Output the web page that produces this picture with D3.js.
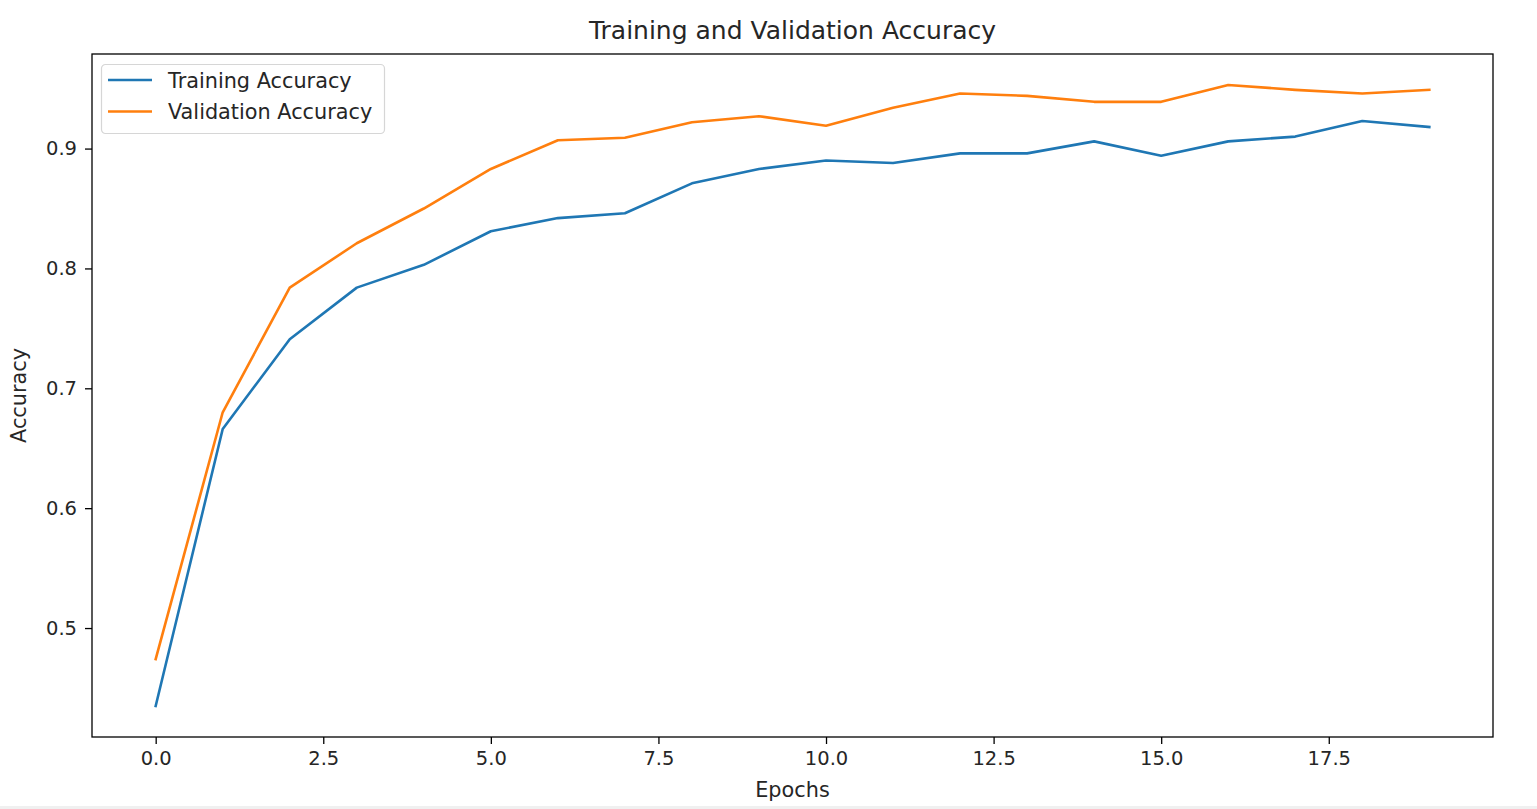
<!DOCTYPE html>
<html>
<head>
<meta charset="utf-8">
<script src="https://cdn.jsdelivr.net/npm/d3@7"></script>
<style>
    html, body { margin: 0; padding: 0; background: #ffffff; }
    svg { display: block; }
</style>
</head>
<body>
<div id="chartContainer"></div>
<script>
var epochs = [0, 1, 2, 3, 4, 5, 6, 7, 8, 9, 10, 11, 12, 13, 14, 15, 16, 17, 18, 19];
var trainingAccuracy = [0.435, 0.666, 0.741, 0.784, 0.803, 0.831, 0.842, 0.846, 0.871, 0.883,
    0.890, 0.888, 0.896, 0.896, 0.906, 0.894, 0.906, 0.910, 0.923, 0.918];
var validationAccuracy = [0.474, 0.680, 0.784, 0.821, 0.850, 0.883, 0.907, 0.909, 0.922, 0.927,
    0.919, 0.934, 0.946, 0.944, 0.939, 0.939, 0.953, 0.949, 0.946, 0.949];
var xTicks = [0, 2.5, 5, 7.5, 10, 12.5, 15, 17.5];
var yTicks = [0.5, 0.6, 0.7, 0.8, 0.9];
var seriesNames = ['Training Accuracy', 'Validation Accuracy'];
var seriesColors = ['#1f77b4', '#ff7f0e'];

var width = 1537;
var height = 809;

// plot box, same as the matplotlib axes
var plotLeft = 92;
var plotRight = 1493;
var plotTop = 54;
var plotBottom = 737;

var fontFamily = '"DejaVu Sans", sans-serif';
var textColor = '#262626';
var tickSize = 19.5;
var labelSize = 20.8;
var tickLength = 7;

// matplotlib pads 5% of the data range on each side
function paddedDomain(values) {
    var lo = d3.min(values);
    var hi = d3.max(values);
    var pad = (hi - lo) * 0.05;
    return [lo - pad, hi + pad];
}

var xScale = d3.scaleLinear()
    .domain(paddedDomain(epochs))
    .range([plotLeft, plotRight]);

var yScale = d3.scaleLinear()
    .domain(paddedDomain(trainingAccuracy.concat(validationAccuracy)))
    .range([plotBottom, plotTop]);

var svg = d3.select('#chartContainer').append('svg')
    .attr('width', width)
    .attr('height', height);

// notebook strip at the bottom
svg.append('rect')
    .attr('x', 0)
    .attr('y', 806)
    .attr('width', width)
    .attr('height', 3)
    .attr('fill', '#f0f0f0');

function addLine(values, color) {
    var line = d3.line()
        .x(function (d, i) { return xScale(epochs[i]); })
        .y(function (d) { return yScale(d); });

    svg.append('path')
        .datum(values)
        .attr('d', line)
        .attr('fill', 'none')
        .attr('stroke', color)
        .attr('stroke-width', 2.6)
        .attr('stroke-linejoin', 'round')
        .attr('stroke-linecap', 'square');
}

function styleAxis(axisGroup) {
    axisGroup.select('.domain').remove();
    axisGroup.selectAll('.tick line')
        .attr('stroke', '#000')
        .attr('stroke-width', 1.3);
    axisGroup.selectAll('.tick text')
        .attr('fill', textColor)
        .style('font-family', fontFamily)
        .style('font-size', tickSize + 'px');
}

function addAxes() {
    var xAxis = d3.axisBottom(xScale)
        .tickValues(xTicks)
        .tickSize(tickLength)
        .tickPadding(7)
        .tickFormat(d3.format('.1f'));

    var xGroup = svg.append('g')
        .attr('transform', 'translate(0,' + plotBottom + ')')
        .call(xAxis);
    styleAxis(xGroup);

    var yAxis = d3.axisLeft(yScale)
        .tickValues(yTicks)
        .tickSize(tickLength)
        .tickPadding(8)
        .tickFormat(d3.format('.1f'));

    var yGroup = svg.append('g')
        .attr('transform', 'translate(' + plotLeft + ',0)')
        .call(yAxis);
    styleAxis(yGroup);

    // frame round the axes
    svg.append('rect')
        .attr('x', plotLeft)
        .attr('y', plotTop)
        .attr('width', plotRight - plotLeft)
        .attr('height', plotBottom - plotTop)
        .attr('fill', 'none')
        .attr('stroke', '#000')
        .attr('stroke-width', 1.3);
}

function addLabels() {
    svg.append('text')
        .attr('x', (plotLeft + plotRight) / 2)
        .attr('y', 39)
        .attr('text-anchor', 'middle')
        .attr('fill', textColor)
        .style('font-family', fontFamily)
        .style('font-size', '25px')
        .text('Training and Validation Accuracy');

    svg.append('text')
        .attr('x', (plotLeft + plotRight) / 2)
        .attr('y', 797)
        .attr('text-anchor', 'middle')
        .attr('fill', textColor)
        .style('font-family', fontFamily)
        .style('font-size', labelSize + 'px')
        .text('Epochs');

    svg.append('text')
        .attr('transform', 'translate(26,' + ((plotTop + plotBottom) / 2) + ') rotate(-90)')
        .attr('text-anchor', 'middle')
        .attr('fill', textColor)
        .style('font-family', fontFamily)
        .style('font-size', labelSize + 'px')
        .text('Accuracy');
}

function addLegend() {
    var legend = svg.append('g').attr('transform', 'translate(101,64)');

    legend.append('rect')
        .attr('x', 0.5)
        .attr('y', 0.5)
        .attr('width', 283)
        .attr('height', 69)
        .attr('rx', 4)
        .attr('fill', '#ffffff')
        .attr('fill-opacity', 0.8)
        .attr('stroke', '#d6d6d6')
        .attr('stroke-width', 1.2);

    var rowHeight = 31.5;
    var rows = legend.selectAll('.legendRow')
        .data(seriesNames)
        .enter()
        .append('g')
        .attr('class', 'legendRow')
        .attr('transform', function (d, i) {
            return 'translate(0,' + (16 + i * rowHeight) + ')';
        });

    rows.append('line')
        .attr('x1', 7)
        .attr('x2', 51)
        .attr('y1', 0)
        .attr('y2', 0)
        .attr('stroke', function (d, i) { return seriesColors[i]; })
        .attr('stroke-width', 2.6);

    rows.append('text')
        .attr('x', 67)
        .attr('y', 7.5)
        .attr('fill', textColor)
        .style('font-family', fontFamily)
        .style('font-size', labelSize + 'px')
        .text(function (d) { return d; });
}

addLine(trainingAccuracy, seriesColors[0]);
addLine(validationAccuracy, seriesColors[1]);
addAxes();
addLabels();
addLegend();
</script>
</body>
</html>
